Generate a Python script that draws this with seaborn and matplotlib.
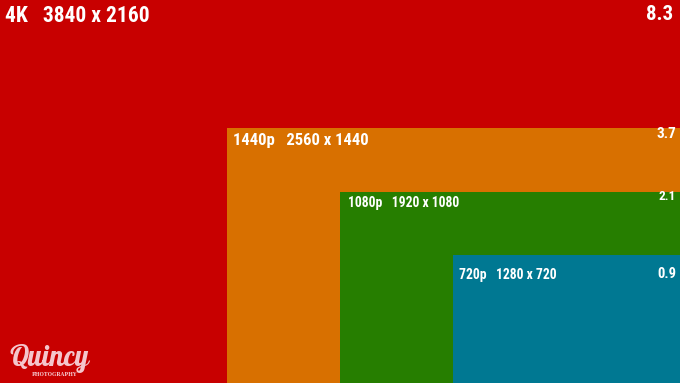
import matplotlib
matplotlib.use("Agg")
import matplotlib.pyplot as plt
import seaborn as sns
from matplotlib.patches import Rectangle

names = ["4K", "1440p", "1080p", "720p"]
widths = [3840, 2560, 1920, 1280]
heights = [2160, 1440, 1080, 720]
megapixels = ["8.3", "3.7", "2.1", "0.9"]
colors = ["#C80000", "#D87000", "#267E00", "#007892"]

# styling (pixel offsets from each rectangle's top-left / top-right corner)
name_sizes = [15.5, 12, 9.8, 9.8]
name_offsets = [(5, -15.5), (6, -12.5), (8, -12), (6, -20)]
mp_sizes = [15, 11, 9.5, 10.5]
mp_offsets = [(-7, -15), (-4, -6.5), (-4, -5), (-4, -18.5)]

sns.set_theme(style="white")
plt.rcParams['font.family'] = ['Roboto Condensed', 'DejaVu Sans']

fig = plt.figure(figsize=(6.8, 3.83), dpi=100)
ax = fig.add_axes([0, 0, 1, 1])
W, H = widths[0], heights[0]
ax.set_xlim(0, W)
ax.set_ylim(0, H)
ax.axis("off")

for i, (n, w, h, mp, c) in enumerate(zip(names, widths, heights, megapixels, colors)):
    ax.add_patch(Rectangle((W - w, 0), w, h, facecolor=c, edgecolor="none"))
    ax.annotate(f"{n}   {w} x {h}", xy=(W - w, h), xytext=name_offsets[i],
                textcoords="offset pixels", color="white", fontsize=name_sizes[i],
                fontweight="bold", ha="left", va="center")
    ax.annotate(mp, xy=(W, h), xytext=mp_offsets[i], textcoords="offset pixels",
                color="white", fontsize=mp_sizes[i], fontweight="bold",
                ha="right", va="center")

ax.annotate("Quincy", xy=(0, 0), xytext=(10, 24), textcoords="offset pixels",
            color="#F4C6CC", fontsize=20.5, family=["Lobster", "DejaVu Serif"],
            ha="left", va="center")
ax.annotate("PHOTOGRAPHY", xy=(0, 0), xytext=(54, 8), textcoords="offset pixels",
            color="#F4C6CC", fontsize=3.6, family=["DejaVu Serif"], fontweight="bold",
            ha="center", va="center")

fig.savefig("out.png", dpi=100)
